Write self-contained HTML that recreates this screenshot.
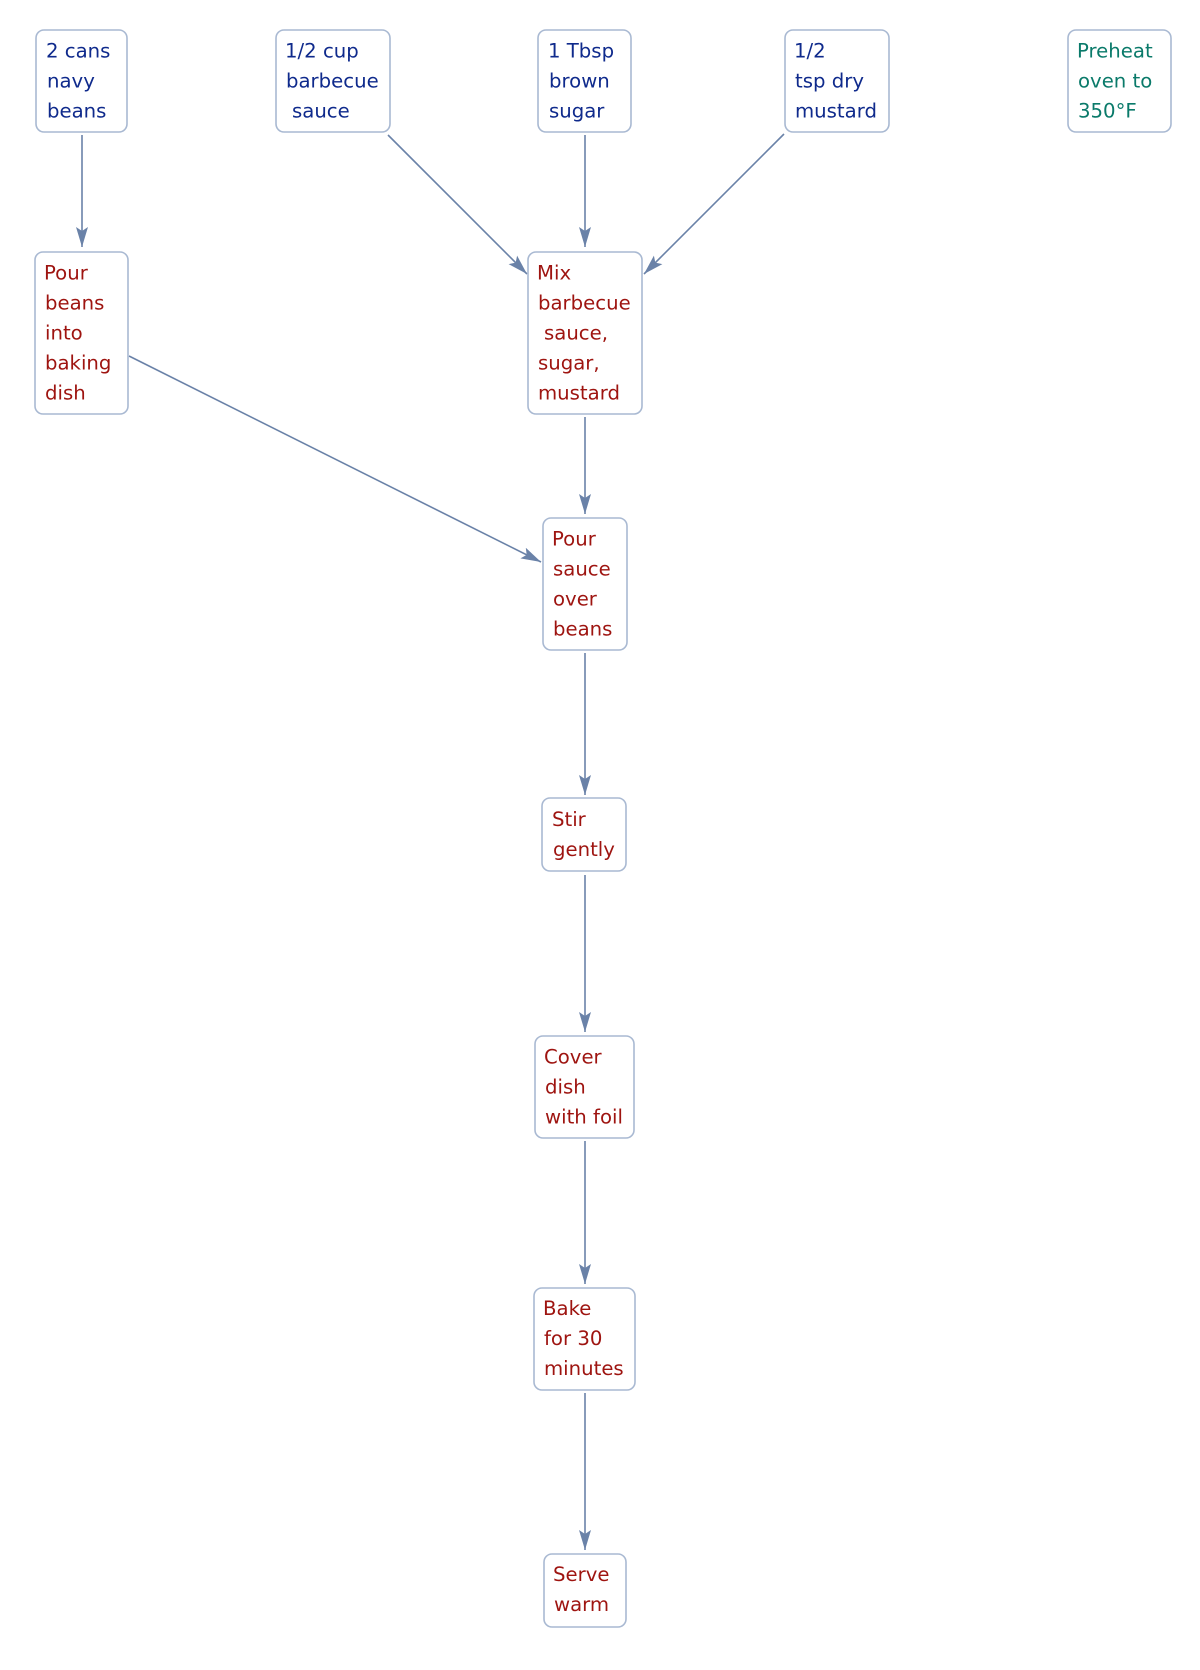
<!DOCTYPE html>
<html><head><meta charset="utf-8"><style>
html,body{margin:0;padding:0;background:#fff;}
svg{display:block;}
text{font-family:"DejaVu Sans","Liberation Sans",sans-serif;font-size:19.7px;}
.b{fill:#0f2a8c}.r{fill:#9e1410}.t{fill:#0a7a6a}
rect{fill:#fff;stroke:#a9b9d2;stroke-width:1.6}
line{stroke:#6a82a8;stroke-width:1.6}
</style></head><body>
<svg width="1200" height="1670" viewBox="0 0 1200 1670" xmlns="http://www.w3.org/2000/svg">
<defs><marker id="a" markerUnits="userSpaceOnUse" markerWidth="22" markerHeight="14" refX="20" refY="7" orient="auto"><path d="M0,1 L20,7 L0,13 L4,7 Z" fill="#6a82a8"/></marker></defs>
<line x1="82" y1="135" x2="82" y2="247" marker-end="url(#a)"/>
<line x1="388" y1="135" x2="527" y2="274" marker-end="url(#a)"/>
<line x1="585" y1="135" x2="585" y2="247" marker-end="url(#a)"/>
<line x1="784" y1="134" x2="644" y2="274" marker-end="url(#a)"/>
<line x1="129" y1="356" x2="541" y2="562" marker-end="url(#a)"/>
<line x1="585" y1="417" x2="585" y2="514" marker-end="url(#a)"/>
<line x1="585" y1="653" x2="585" y2="795" marker-end="url(#a)"/>
<line x1="585" y1="875" x2="585" y2="1032" marker-end="url(#a)"/>
<line x1="585" y1="1141" x2="585" y2="1284" marker-end="url(#a)"/>
<line x1="585" y1="1393" x2="585" y2="1550" marker-end="url(#a)"/>

<rect x="36" y="30" width="91" height="102" rx="8"/>
<text class="b"><tspan x="46" y="57.5">2 cans</tspan><tspan x="47" y="87.5">navy</tspan><tspan x="47" y="117.5">beans</tspan></text>
<rect x="276" y="30" width="114" height="102" rx="8"/>
<text class="b"><tspan x="285" y="57.5">1/2 cup</tspan><tspan x="286" y="87.5">barbecue</tspan><tspan x="292" y="117.5">sauce</tspan></text>
<rect x="538" y="30" width="93" height="102" rx="8"/>
<text class="b"><tspan x="548" y="57.5">1 Tbsp</tspan><tspan x="549" y="87.5">brown</tspan><tspan x="549" y="117.5">sugar</tspan></text>
<rect x="785" y="30" width="104" height="102" rx="8"/>
<text class="b"><tspan x="794" y="57.5">1/2</tspan><tspan x="795" y="87.5">tsp dry</tspan><tspan x="795" y="117.5">mustard</tspan></text>
<rect x="1068" y="30" width="103" height="102" rx="8"/>
<text class="t"><tspan x="1077" y="57.5">Preheat</tspan><tspan x="1078" y="87.5">oven to</tspan><tspan x="1078" y="117.5">350°F</tspan></text>

<rect x="35" y="252" width="93" height="162" rx="8"/>
<text class="r"><tspan x="44" y="279.5">Pour</tspan><tspan x="45" y="309.5">beans</tspan><tspan x="45" y="339.5">into</tspan><tspan x="45" y="369.5">baking</tspan><tspan x="45" y="399.5">dish</tspan></text>
<rect x="528" y="252" width="114" height="162" rx="8"/>
<text class="r"><tspan x="537" y="279.5">Mix</tspan><tspan x="538" y="309.5">barbecue</tspan><tspan x="544" y="339.5">sauce,</tspan><tspan x="538" y="369.5">sugar,</tspan><tspan x="538" y="399.5">mustard</tspan></text>

<rect x="543" y="518" width="84" height="132" rx="8"/>
<text class="r"><tspan x="552" y="545.5">Pour</tspan><tspan x="553" y="575.5">sauce</tspan><tspan x="553" y="605.5">over</tspan><tspan x="553" y="635.5">beans</tspan></text>
<rect x="542" y="798" width="84" height="73" rx="8"/>
<text class="r"><tspan x="552" y="826">Stir</tspan><tspan x="553" y="856">gently</tspan></text>
<rect x="535" y="1036" width="99" height="102" rx="8"/>
<text class="r"><tspan x="544" y="1063.5">Cover</tspan><tspan x="545" y="1093.5">dish</tspan><tspan x="545" y="1123.5">with foil</tspan></text>
<rect x="534" y="1288" width="101" height="102" rx="8"/>
<text class="r"><tspan x="543" y="1315">Bake</tspan><tspan x="544" y="1345">for 30</tspan><tspan x="544" y="1375">minutes</tspan></text>
<rect x="544" y="1554" width="82" height="73" rx="8"/>
<text class="r"><tspan x="553" y="1581">Serve</tspan><tspan x="554" y="1611">warm</tspan></text>
</svg>
</body></html>
